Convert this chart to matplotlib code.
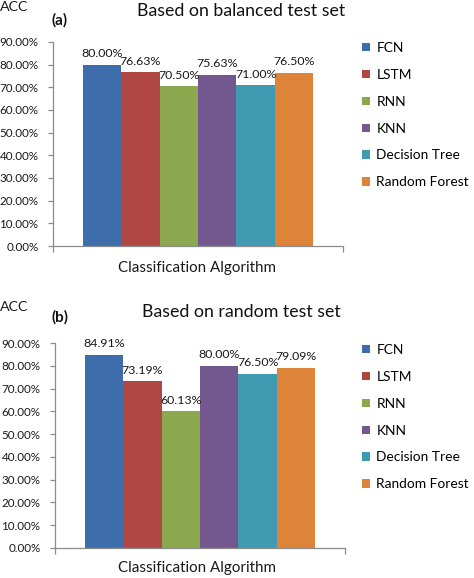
import matplotlib
matplotlib.use("Agg")
import matplotlib.pyplot as plt
from matplotlib.patches import Patch

plt.rcParams['font.family'] = ['Lato', 'DejaVu Sans']

algorithms = ["FCN", "LSTM", "RNN", "KNN", "Decision Tree", "Random Forest"]
balanced_acc = [80.00, 76.63, 70.50, 75.63, 71.00, 76.50]
random_acc = [84.91, 73.19, 60.13, 80.00, 76.50, 79.09]
colors = ["#3D6DAA", "#B04643", "#8CA84F", "#73588F", "#3F9AB2", "#DD8439"]
yticks = [0, 10, 20, 30, 40, 50, 60, 70, 80, 90]
panel_labels = ["(a)", "(b)"]
titles = ["Based on balanced test set", "Based on random test set"]

W, H = 474, 578
fig = plt.figure(figsize=(W / 100, H / 100), dpi=100)

def fx(px):
    return px / W

def fy(py):
    return 1 - py / H

panels = [
    dict(vals=balanced_acc, left=53, right=343, top=42, bottom=246,
         acc_y=7, lab_y=20, title_y=11, xlab_y=268, leg_y=42),
    dict(vals=random_acc, left=55, right=345, top=343, bottom=548,
         acc_y=307, lab_y=317, title_y=312, xlab_y=568, leg_y=344),
]

gap = 0.78
axis_color = "#8C8C8C"
txt = "#1a1a1a"
for k, p in enumerate(panels):
    ax = fig.add_axes([fx(p["left"]), fy(p["bottom"]),
                       fx(p["right"] - p["left"]), (p["bottom"] - p["top"]) / H])
    xs = list(range(len(algorithms)))
    ax.bar(xs, p["vals"], width=1.0, color=colors, linewidth=0)
    for x, v in zip(xs, p["vals"]):
        ax.annotate(f"{v:.2f}%", (x, v), xytext=(0, 11), textcoords="offset pixels",
                    ha="center", va="center", fontsize=8.9, color=txt)
    ax.set_xlim(-0.5 - gap, len(algorithms) - 0.5 + gap)
    ax.set_ylim(0, 90)
    ax.set_yticks(yticks)
    ax.set_yticklabels([f"{t:.2f}%" for t in yticks], fontsize=8.4, color=txt)
    ax.set_xticks([-0.5 - gap, len(algorithms) - 0.5 + gap])
    ax.set_xticklabels([])
    ax.tick_params(axis="both", direction="out", length=3.5, width=0.9,
                   color=axis_color, pad=7)
    ax.tick_params(axis="x", length=4)
    for s in ["top", "right"]:
        ax.spines[s].set_visible(False)
    for s in ["left", "bottom"]:
        ax.spines[s].set_color(axis_color)
        ax.spines[s].set_linewidth(0.9)
    fig.text(fx(0), fy(p["acc_y"]), "ACC", fontsize=10.3, ha="left", va="center", color=txt)
    fig.text(fx(52), fy(p["lab_y"]), panel_labels[k], fontsize=11, fontweight="bold",
             ha="left", va="center", color="#111111")
    fig.text(fx(241), fy(p["title_y"]), titles[k], fontsize=12.8, ha="center", va="center",
             color="#111111")
    fig.text(fx(197), fy(p["xlab_y"]), "Classification Algorithm", fontsize=10.9,
             ha="center", va="center", color=txt)
    handles = [Patch(facecolor=c, edgecolor="none") for c in colors]
    fig.legend(handles, algorithms, loc="upper left",
               bbox_to_anchor=(fx(362), fy(p["leg_y"])), frameon=False,
               fontsize=9.9, handlelength=0.55, handleheight=0.55, handletextpad=0.5,
               labelspacing=1.08, borderaxespad=0, borderpad=0)

fig.savefig("out.png", dpi=100)
